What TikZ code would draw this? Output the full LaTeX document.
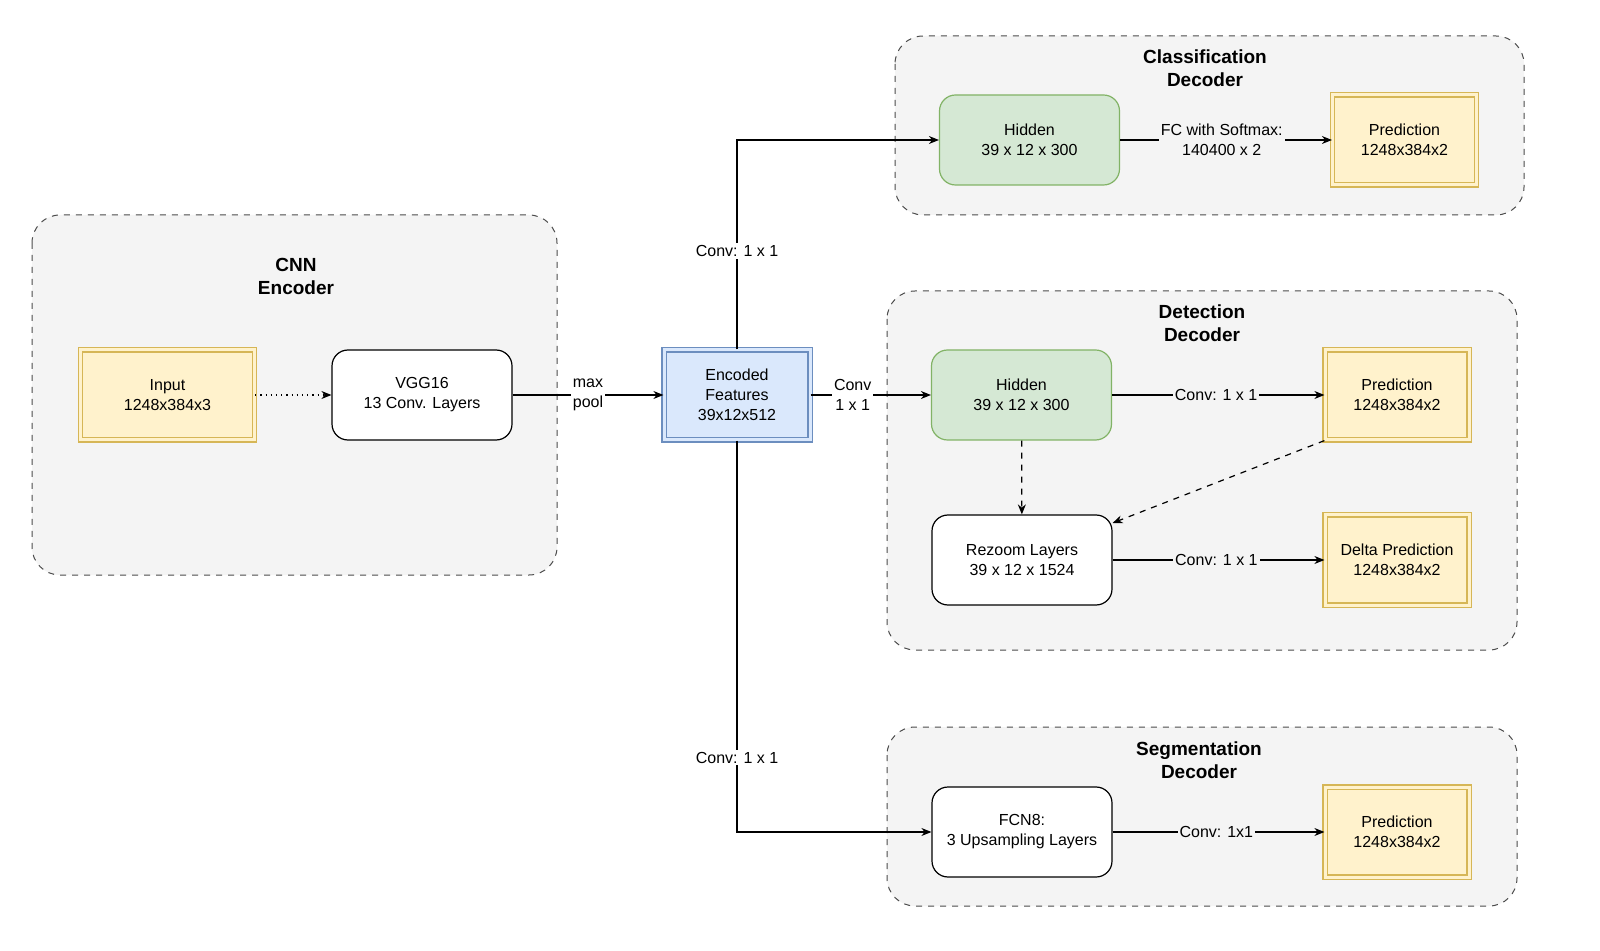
\documentclass[tikz,border=0pt]{standalone}
\usepackage{fontspec}
\setmainfont{Liberation Sans}
\usetikzlibrary{arrows.meta}
\definecolor{grp}{HTML}{F4F4F4}
\definecolor{yf}{HTML}{FFF2CC}\definecolor{yd}{HTML}{D6B656}
\definecolor{bf}{HTML}{DAE8FC}\definecolor{bd}{HTML}{6C8EBF}
\definecolor{gf}{HTML}{D5E8D4}\definecolor{gd}{HTML}{82B366}
\begin{document}
\begin{tikzpicture}[x=0.5pt,y=-0.5pt,font=\fontsize{8}{10}\selectfont,
 grpbox/.style={draw=black!70,dashed,fill=grp,rounded corners=14pt,line width=0.5pt},
 ttl/.style={font=\fontsize{9.5}{11.5}\selectfont\bfseries,align=center},
 base/.style={align=center,inner sep=0pt,minimum width=#1,minimum height=45pt},
 yel/.style={base=#1,draw=yd,double=yf,double distance=1.5pt,fill=yf,line width=0.6pt},
 blu/.style={base=#1,draw=bd,double=bf,double distance=1.5pt,fill=bf,line width=0.6pt},
 grn/.style={base=#1,draw=gd,fill=gf,rounded corners=8pt,line width=0.6pt},
 wht/.style={base=#1,draw=black,fill=white,rounded corners=8pt,line width=0.6pt},
 arr/.style={-{Stealth[length=5pt,width=4pt]},line width=0.6pt},
 lbl/.style={align=center,fill=#1,inner sep=1pt}]
\useasboundingbox (0,0) rectangle (1600,951);
\fill[white] (0,0) rectangle (1600,951);
% groups
\draw[grpbox] (32,215) rectangle (557,575);
\node[ttl] (tcnn) at (296,276) {CNN\\Encoder};
\draw[grpbox] (895,36) rectangle (1524,215);
\node[ttl] (tcls) at (1205,68) {Classification\\Decoder};
\draw[grpbox] (887,291) rectangle (1517,650);
\node[ttl] (tdet) at (1202,323) {Detection\\Decoder};
\draw[grpbox] (887,727) rectangle (1517,906);
\node[ttl] (tseg) at (1199,760) {Segmentation\\Decoder};
% nodes
\node[yel=87pt] (in) at (167.5,395) {Input\\1248x384x3};
\node[wht=90pt] (vgg) at (422,395) {VGG16\\13 Conv. Layers};
\node[blu=73pt] (enc) at (737,395) {Encoded\\Features\\39x12x512};
\node[grn=90pt] (hc) at (1029.5,140) {Hidden\\39 x 12 x 300};
\node[yel=72pt] (pc) at (1404.5,140) {Prediction\\1248x384x2};
\node[grn=90pt] (hd) at (1021.5,395) {Hidden\\39 x 12 x 300};
\node[yel=72pt] (pd) at (1397,395) {Prediction\\1248x384x2};
\node[wht=90pt] (rz) at (1022,560) {Rezoom Layers\\39 x 12 x 1524};
\node[yel=72pt] (dp) at (1397,560) {Delta Prediction\\1248x384x2};
\node[wht=90pt] (fcn) at (1022,832) {FCN8:\\3 Upsampling Layers};
\node[yel=72pt] (ps) at (1397,832) {Prediction\\1248x384x2};
% edges
\draw[arr,dotted] (in) -- (vgg);
\draw[arr] (vgg) -- node[lbl=white]{max\\pool} (enc);
\draw[arr] (enc) -- node[lbl=white,pos=0.35]{Conv\\1 x 1} (hd);
\coordinate (c1) at (737,140);
\coordinate (c2) at (737,832);
\draw[arr] (enc.north) -- node[lbl=white,pos=0.47]{Conv: 1 x 1} (c1) -- (hc);
\draw[arr] (enc.south) -- node[lbl=white,pos=0.81]{Conv: 1 x 1} (c2) -- (fcn);
\draw[arr] (hc) -- node[lbl=grp,pos=0.48]{FC with Softmax:\\140400 x 2} (pc);
\draw[arr] (hd) -- node[lbl=grp,pos=0.49]{Conv: 1 x 1} (pd);
\draw[arr,dashed] (hd) -- (rz);
\draw[arr,dashed] (pd.south west) -- (rz.north east |- 0,523);
\draw[arr] (rz) -- node[lbl=grp,pos=0.49]{Conv: 1 x 1} (dp);
\draw[arr] (fcn) -- node[lbl=grp,pos=0.49]{Conv: 1x1} (ps);
\end{tikzpicture}
\end{document}
